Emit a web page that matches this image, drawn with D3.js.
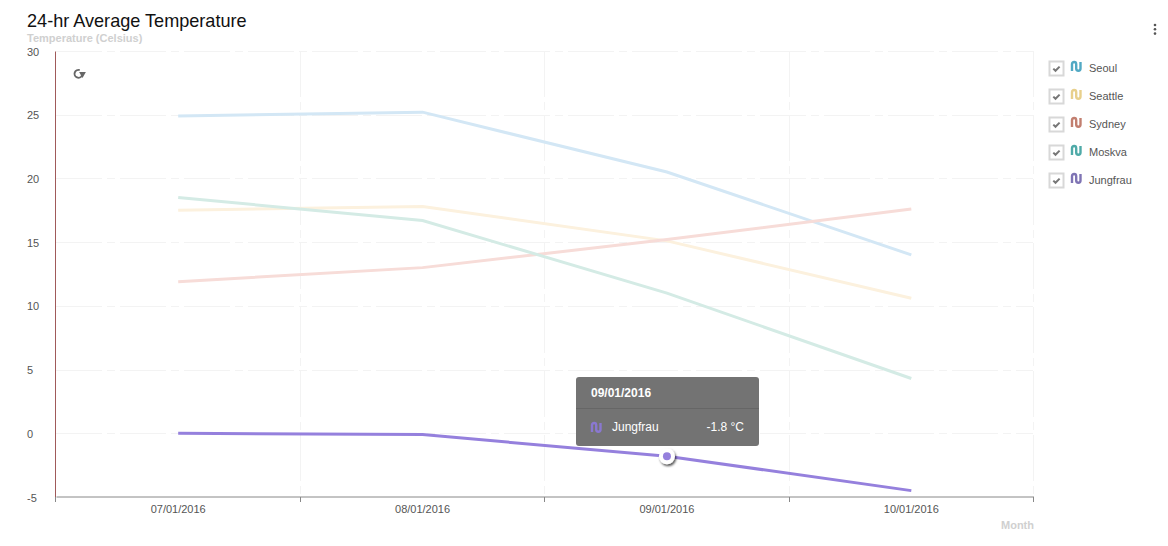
<!DOCTYPE html>
<html>
<head>
<meta charset="utf-8">
<script src="https://cdn.jsdelivr.net/npm/d3@7"></script>
<style>
  html, body { margin: 0; padding: 0; background: #fff; }
  svg { display: block; font-family: "Liberation Sans", Arial, sans-serif; }
</style>
</head>
<body>
<svg id="chart" width="1168" height="546"></svg>
<script>
const months = ["07/01/2016", "08/01/2016", "09/01/2016", "10/01/2016"]
const cities = ["Seoul", "Seattle", "Sydney", "Moskva", "Jungfrau"]
const seoul = [24.9, 25.2, 20.5, 14.0]
const seattle = [17.5, 17.8, 15.1, 10.6]
const sydney = [11.9, 13.0, 15.2, 17.6]
const moskva = [18.5, 16.7, 11.0, 4.3]
const jungfrau = [0.0, -0.1, -1.8, -4.5]
const yTicks = [-5, 0, 5, 10, 15, 20, 25, 30]
const lineColors = ["#d3e7f5", "#fcf1de", "#f7dcd8", "#d4ebe5", "#9580dd"]
const legendColors = ["#52a9c4", "#e8d08c", "#c27f70", "#4faaa8", "#7f74b4"]

const seriesValues = [seoul, seattle, sydney, moskva, jungfrau]

function draw () {
  const svg = d3.select('#chart')
  const axisX = 55, left = 56, right = 1033.5, top = 51, bottom = 497

  const xScale = d3.scaleBand().domain(months).range([left, right])
  const yScale = d3.scaleLinear().domain([-5, 30]).range([bottom, top])
  const xPos = d => xScale(d) + xScale.bandwidth() / 2

  // grid
  const grid = svg.append('g')
  grid.selectAll('.hgrid')
    .data(yTicks.filter(d => d !== -5))
    .join('line')
    .attr('x1', left).attr('x2', right - 0.5)
    .attr('y1', d => Math.round(yScale(d)) + 0.5).attr('y2', d => Math.round(yScale(d)) + 0.5)
    .attr('stroke', '#f3f3f3')
    .attr('stroke-dasharray', '46,5,8,5')
  grid.selectAll('.vgrid')
    .data(months)
    .join('line')
    .attr('x1', d => Math.floor(xScale(d) + xScale.bandwidth()) + 0.5)
    .attr('x2', d => Math.floor(xScale(d) + xScale.bandwidth()) + 0.5)
    .attr('y1', top).attr('y2', bottom)
    .attr('stroke', '#f3f3f3')
    .attr('stroke-dasharray', '46,5,8,5')

  // axes
  const yAxis = d3.axisLeft(yScale).tickValues(yTicks).tickSize(0).tickPadding(0)
    .tickFormat(d => String(d))
  const yG = svg.append('g').attr('transform', `translate(${axisX}, 0)`).call(yAxis)
  yG.select('.domain').attr('stroke', '#a05a5a')
  yG.selectAll('text')
    .attr('x', -28)
    .attr('dy', 0)
    .attr('y', 4)
    .attr('text-anchor', 'start')
    .attr('fill', '#555')
    .style('font-size', '11px')
    .style('font-family', '"Liberation Sans", Arial, sans-serif')

  const xAxis = d3.axisBottom(xScale).tickSize(0).tickPadding(9)
  const xG = svg.append('g').attr('transform', `translate(0, ${bottom - 0.5})`).call(xAxis)
  xG.select('.domain').attr('stroke', '#888')
  xG.selectAll('text')
    .attr('fill', '#555')
    .style('font-size', '11px')
    .style('font-family', '"Liberation Sans", Arial, sans-serif')
  svg.append('g').selectAll('line')
    .data([axisX].concat(months.map(d => xScale(d) + xScale.bandwidth())))
    .join('line')
    .attr('x1', d => Math.floor(d) + 0.5).attr('x2', d => Math.floor(d) + 0.5)
    .attr('y1', bottom).attr('y2', bottom + 5)
    .attr('stroke', '#888')

  // lines
  const line = d3.line().x((d, i) => xPos(months[i])).y(d => yScale(d))
  svg.append('g').selectAll('path')
    .data(seriesValues)
    .join('path')
    .attr('d', line)
    .attr('fill', 'none')
    .attr('stroke', (d, i) => lineColors[i])
    .attr('stroke-width', 3)

  // hover point on Jungfrau
  const defs = svg.append('defs')
  const shadow = defs.append('filter').attr('id', 'pointShadow')
    .attr('x', '-50%').attr('y', '-50%').attr('width', '200%').attr('height', '200%')
  shadow.append('feDropShadow')
    .attr('dx', 1.2).attr('dy', 1.8).attr('stdDeviation', 1.3)
    .attr('flood-color', '#000').attr('flood-opacity', 0.7)
  const hoverX = xPos(months[2]), hoverY = yScale(jungfrau[2])
  svg.append('circle')
    .attr('cx', hoverX).attr('cy', hoverY).attr('r', 8)
    .attr('fill', '#fff').attr('filter', 'url(#pointShadow)')
  svg.append('circle')
    .attr('cx', hoverX).attr('cy', hoverY).attr('r', 4)
    .attr('fill', '#9580dd')

  // squiggle legend icon
  const squiggle = 'M1,10 V3.2 Q1,1 3.2,1 Q5.2,1 5.2,3.2 V7.5 Q5.2,9.7 7.4,9.7 Q9.5,9.7 9.5,7.5 V1'
  const drawIcon = (g, color) => g.append('path')
    .attr('d', squiggle)
    .attr('fill', 'none')
    .attr('stroke', color)
    .attr('stroke-width', 2.4)

  // tooltip
  const tip = svg.append('g').attr('transform', 'translate(576, 377)')
  tip.append('rect').attr('width', 183).attr('height', 69).attr('rx', 3)
    .attr('fill', '#737373')
  tip.append('line').attr('x1', 0).attr('x2', 183).attr('y1', 31.5).attr('y2', 31.5)
    .attr('stroke', '#666')
  tip.append('text').attr('x', 15).attr('y', 20)
    .attr('fill', '#fff').attr('font-size', 12).attr('font-weight', 'bold')
    .text(months[2])
  drawIcon(tip.append('g').attr('transform', 'translate(15, 45)'), '#8a78d0')
  tip.append('text').attr('x', 36).attr('y', 54)
    .attr('fill', '#fff').attr('font-size', 12)
    .text(cities[4])
  tip.append('text').attr('x', 168).attr('y', 54).attr('text-anchor', 'end')
    .attr('fill', '#fff').attr('font-size', 12)
    .text(`${jungfrau[2]} °C`)

  // titles
  svg.append('text').attr('x', 27).attr('y', 27)
    .attr('font-size', 18.1).attr('fill', '#111')
    .text('24-hr Average Temperature')
  svg.append('text').attr('x', 27).attr('y', 42)
    .attr('font-size', 11).attr('font-weight', 'bold').attr('fill', '#d0d0d0')
    .text('Temperature (Celsius)')
  svg.append('text').attr('x', 1034).attr('y', 529).attr('text-anchor', 'end')
    .attr('font-size', 11).attr('font-weight', 'bold').attr('fill', '#d0d0d0')
    .text('Month')

  // reset icon
  const arc = d3.arc()({ innerRadius: 3, outerRadius: 4.9, startAngle: 2.0, endAngle: 6.6 })
  const reset = svg.append('g').attr('transform', 'translate(78.5, 73.8)')
  reset.append('path').attr('d', arc).attr('fill', '#666')
  reset.append('path').attr('d', d3.symbol().type(d3.symbolTriangle).size(20)())
    .attr('transform', 'translate(4, 0.2) rotate(180)')
    .attr('fill', '#666')

  // menu dots
  svg.append('g').selectAll('circle')
    .data([0, 1, 2])
    .join('circle')
    .attr('cx', 1155).attr('cy', d => 25 + d * 4.3).attr('r', 1.3)
    .attr('fill', '#555')

  // legend
  const legend = svg.append('g').selectAll('g')
    .data(cities)
    .join('g')
    .attr('transform', (d, i) => `translate(1049, ${61 + i * 28})`)
  legend.append('rect')
    .attr('x', 0.5).attr('y', 0.5).attr('width', 14).attr('height', 14)
    .attr('fill', '#fff').attr('stroke', '#d8d8d8').attr('stroke-width', 2)
  legend.append('path')
    .attr('d', 'M4.3,7.6 L6.5,9.8 L10.6,5.6')
    .attr('fill', 'none').attr('stroke', '#777').attr('stroke-width', 2)
  legend.each(function (d, i) {
    drawIcon(d3.select(this).append('g').attr('transform', 'translate(22, 0)'), legendColors[i])
  })
  legend.append('text')
    .attr('x', 40).attr('y', 11)
    .attr('font-size', 11).attr('fill', '#555')
    .text(d => d)
}

draw();
</script>
</body>
</html>
